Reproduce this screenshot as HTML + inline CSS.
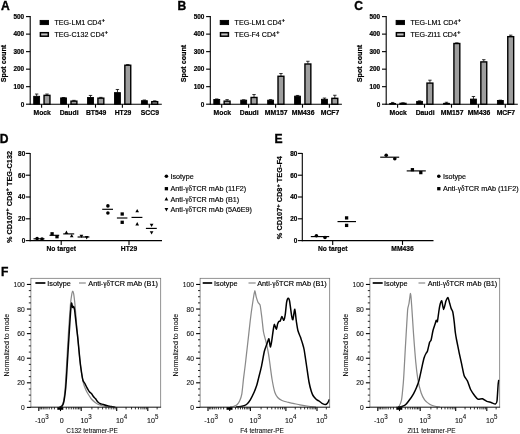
<!DOCTYPE html>
<html lang="en"><head><meta charset="utf-8"><title>Figure</title>
<style>html,body{margin:0;padding:0;background:#fff}body{width:520px;height:434px;overflow:hidden}svg{display:block}text{font-family:"Liberation Sans", Arial, Helvetica, sans-serif;fill:#000}.b{font-weight:bold}.pl{font-size:12.1px;font-weight:bold;fill:#000;stroke:#000;stroke-width:0.35px}.tk{font-size:6.4px;font-weight:bold;stroke:#000;stroke-width:0.2px}.cat{font-size:6.8px;font-weight:bold;stroke:#000;stroke-width:0.2px}.yl{font-size:7.2px;font-weight:bold;stroke:#000;stroke-width:0.2px}.lg{font-size:7.1px;stroke:#000;stroke-width:0.15px}.ft{font-size:7.2px;fill:#111;stroke:#111;stroke-width:0.1px}.fl{font-size:7.0px;fill:#111;stroke:#111;stroke-width:0.1px}.sup{font-size:6.2px;font-weight:bold}</style></head><body>
<svg width="520" height="434" viewBox="0 0 520 434">
<rect width="520" height="434" fill="#fff"/>
<text class="pl" x="0.9" y="9.9">A</text>
<path d="M30.2 16.05V104.8" stroke="#000" stroke-width="1.1" fill="none"/>
<path d="M29.6 104.2H161.8" stroke="#000" stroke-width="1.1" fill="none"/>
<path d="M26.0 104.20H30.2" stroke="#000" stroke-width="1.1"/>
<text class="tk" text-anchor="end" x="24.2" y="106.50">0</text>
<path d="M26.0 86.68H30.2" stroke="#000" stroke-width="1.1"/>
<text class="tk" text-anchor="end" x="24.2" y="88.98">100</text>
<path d="M26.0 69.16H30.2" stroke="#000" stroke-width="1.1"/>
<text class="tk" text-anchor="end" x="24.2" y="71.46">200</text>
<path d="M26.0 51.64H30.2" stroke="#000" stroke-width="1.1"/>
<text class="tk" text-anchor="end" x="24.2" y="53.94">300</text>
<path d="M26.0 34.12H30.2" stroke="#000" stroke-width="1.1"/>
<text class="tk" text-anchor="end" x="24.2" y="36.42">400</text>
<path d="M26.0 16.60H30.2" stroke="#000" stroke-width="1.1"/>
<text class="tk" text-anchor="end" x="24.2" y="18.90">500</text>
<text class="yl" text-anchor="middle" transform="translate(6.0 63.5) rotate(-90)">Spot count</text>
<rect x="40.1" y="20.4" width="8.4" height="4.2" fill="#000" stroke="#000" stroke-width="0.9"/>
<rect x="40.4" y="32.7" width="7.9" height="3.5" fill="#c4c4c4" stroke="#000" stroke-width="1.5"/>
<text class="lg" x="54.5" y="25.2">TEG-LM1 CD4<tspan class="sup" dy="-3.3">+</tspan></text>
<text class="lg" x="54.5" y="37.1">TEG-C132 CD4<tspan class="sup" dy="-3.3">+</tspan></text>
<path d="M41.6 104.2V107.7" stroke="#000" stroke-width="1.1"/>
<text class="cat" text-anchor="middle" x="42.2" y="114.6">Mock</text>
<path d="M36.65 96.32V94.04M34.95 94.04H38.35" stroke="#000" stroke-width="0.8" fill="none"/>
<rect x="33.70" y="96.32" width="5.90" height="7.88" fill="#000" stroke="#000" stroke-width="0.9"/>
<path d="M47.00 95.09V94.04M45.30 94.04H48.70" stroke="#000" stroke-width="0.8" fill="none"/>
<rect x="44.05" y="95.36" width="5.90" height="8.84" fill="#9e9e9e" stroke="#000" stroke-width="1.4"/>
<path d="M68.5 104.2V107.7" stroke="#000" stroke-width="1.1"/>
<text class="cat" text-anchor="middle" x="69.1" y="114.6">Daudi</text>
<path d="M63.58 97.89V97.54M61.88 97.54H65.28" stroke="#000" stroke-width="0.8" fill="none"/>
<rect x="60.63" y="97.89" width="5.90" height="6.31" fill="#000" stroke="#000" stroke-width="0.9"/>
<path d="M73.93 100.87V100.35M72.23 100.35H75.63" stroke="#000" stroke-width="0.8" fill="none"/>
<rect x="70.98" y="101.15" width="5.90" height="3.05" fill="#9e9e9e" stroke="#000" stroke-width="1.4"/>
<path d="M95.5 104.2V107.7" stroke="#000" stroke-width="1.1"/>
<text class="cat" text-anchor="middle" x="96.1" y="114.6">BT549</text>
<path d="M90.51 97.54V95.44M88.81 95.44H92.21" stroke="#000" stroke-width="0.8" fill="none"/>
<rect x="87.56" y="97.54" width="5.90" height="6.66" fill="#000" stroke="#000" stroke-width="0.9"/>
<path d="M100.86 97.89V97.37M99.16 97.37H102.56" stroke="#000" stroke-width="0.8" fill="none"/>
<rect x="97.91" y="98.17" width="5.90" height="6.03" fill="#9e9e9e" stroke="#000" stroke-width="1.4"/>
<path d="M122.4 104.2V107.7" stroke="#000" stroke-width="1.1"/>
<text class="cat" text-anchor="middle" x="123.0" y="114.6">HT29</text>
<path d="M117.44 92.64V89.48M115.74 89.48H119.14" stroke="#000" stroke-width="0.8" fill="none"/>
<rect x="114.49" y="92.64" width="5.90" height="11.56" fill="#000" stroke="#000" stroke-width="0.9"/>
<path d="M127.79 64.96V64.60M126.09 64.60H129.49" stroke="#000" stroke-width="0.8" fill="none"/>
<rect x="124.84" y="65.23" width="5.90" height="38.97" fill="#9e9e9e" stroke="#000" stroke-width="1.4"/>
<path d="M149.3 104.2V107.7" stroke="#000" stroke-width="1.1"/>
<text class="cat" text-anchor="middle" x="149.9" y="114.6">SCC9</text>
<path d="M144.37 100.70V100.00M142.67 100.00H146.07" stroke="#000" stroke-width="0.8" fill="none"/>
<rect x="141.42" y="100.70" width="5.90" height="3.50" fill="#000" stroke="#000" stroke-width="0.9"/>
<path d="M154.72 101.40V100.87M153.02 100.87H156.42" stroke="#000" stroke-width="0.8" fill="none"/>
<rect x="151.77" y="101.67" width="5.90" height="2.53" fill="#9e9e9e" stroke="#000" stroke-width="1.4"/>
<text class="pl" x="177.6" y="9.9">B</text>
<path d="M210.3 16.05V104.8" stroke="#000" stroke-width="1.1" fill="none"/>
<path d="M209.8 104.2H341.9" stroke="#000" stroke-width="1.1" fill="none"/>
<path d="M206.1 104.20H210.3" stroke="#000" stroke-width="1.1"/>
<text class="tk" text-anchor="end" x="204.3" y="106.50">0</text>
<path d="M206.1 86.68H210.3" stroke="#000" stroke-width="1.1"/>
<text class="tk" text-anchor="end" x="204.3" y="88.98">100</text>
<path d="M206.1 69.16H210.3" stroke="#000" stroke-width="1.1"/>
<text class="tk" text-anchor="end" x="204.3" y="71.46">200</text>
<path d="M206.1 51.64H210.3" stroke="#000" stroke-width="1.1"/>
<text class="tk" text-anchor="end" x="204.3" y="53.94">300</text>
<path d="M206.1 34.12H210.3" stroke="#000" stroke-width="1.1"/>
<text class="tk" text-anchor="end" x="204.3" y="36.42">400</text>
<path d="M206.1 16.60H210.3" stroke="#000" stroke-width="1.1"/>
<text class="tk" text-anchor="end" x="204.3" y="18.90">500</text>
<text class="yl" text-anchor="middle" transform="translate(186.1 63.5) rotate(-90)">Spot count</text>
<rect x="220.2" y="20.4" width="8.4" height="4.2" fill="#000" stroke="#000" stroke-width="0.9"/>
<rect x="220.5" y="32.7" width="7.9" height="3.5" fill="#c4c4c4" stroke="#000" stroke-width="1.5"/>
<text class="lg" x="234.6" y="25.2">TEG-LM1 CD4<tspan class="sup" dy="-3.3">+</tspan></text>
<text class="lg" x="234.6" y="37.1">TEG-F4 CD4<tspan class="sup" dy="-3.3">+</tspan></text>
<path d="M221.7 104.2V107.7" stroke="#000" stroke-width="1.1"/>
<text class="cat" text-anchor="middle" x="222.3" y="114.6">Mock</text>
<path d="M216.75 99.47V98.94M215.05 98.94H218.45" stroke="#000" stroke-width="0.8" fill="none"/>
<rect x="213.80" y="99.47" width="5.90" height="4.73" fill="#000" stroke="#000" stroke-width="0.9"/>
<path d="M227.10 100.87V99.64M225.40 99.64H228.80" stroke="#000" stroke-width="0.8" fill="none"/>
<rect x="224.15" y="101.15" width="5.90" height="3.05" fill="#9e9e9e" stroke="#000" stroke-width="1.4"/>
<path d="M248.6 104.2V107.7" stroke="#000" stroke-width="1.1"/>
<text class="cat" text-anchor="middle" x="249.2" y="114.6">Daudi</text>
<path d="M243.68 100.17V99.82M241.98 99.82H245.38" stroke="#000" stroke-width="0.8" fill="none"/>
<rect x="240.73" y="100.17" width="5.90" height="4.03" fill="#000" stroke="#000" stroke-width="0.9"/>
<path d="M254.03 97.19V94.56M252.33 94.56H255.73" stroke="#000" stroke-width="0.8" fill="none"/>
<rect x="251.08" y="97.47" width="5.90" height="6.73" fill="#9e9e9e" stroke="#000" stroke-width="1.4"/>
<path d="M275.6 104.2V107.7" stroke="#000" stroke-width="1.1"/>
<text class="cat" text-anchor="middle" x="276.2" y="114.6">MM157</text>
<path d="M270.61 100.17V99.64M268.91 99.64H272.31" stroke="#000" stroke-width="0.8" fill="none"/>
<rect x="267.66" y="100.17" width="5.90" height="4.03" fill="#000" stroke="#000" stroke-width="0.9"/>
<path d="M280.96 75.99V73.54M279.26 73.54H282.66" stroke="#000" stroke-width="0.8" fill="none"/>
<rect x="278.01" y="76.27" width="5.90" height="27.93" fill="#9e9e9e" stroke="#000" stroke-width="1.4"/>
<path d="M302.5 104.2V107.7" stroke="#000" stroke-width="1.1"/>
<text class="cat" text-anchor="middle" x="303.1" y="114.6">MM436</text>
<path d="M297.54 96.14V95.44M295.84 95.44H299.24" stroke="#000" stroke-width="0.8" fill="none"/>
<rect x="294.59" y="96.14" width="5.90" height="8.06" fill="#000" stroke="#000" stroke-width="0.9"/>
<path d="M307.89 63.73V61.28M306.19 61.28H309.59" stroke="#000" stroke-width="0.8" fill="none"/>
<rect x="304.94" y="64.00" width="5.90" height="40.20" fill="#9e9e9e" stroke="#000" stroke-width="1.4"/>
<path d="M329.4 104.2V107.7" stroke="#000" stroke-width="1.1"/>
<text class="cat" text-anchor="middle" x="330.0" y="114.6">MCF7</text>
<path d="M324.47 99.29V98.07M322.77 98.07H326.17" stroke="#000" stroke-width="0.8" fill="none"/>
<rect x="321.52" y="99.29" width="5.90" height="4.91" fill="#000" stroke="#000" stroke-width="0.9"/>
<path d="M334.82 98.07V95.26M333.12 95.26H336.52" stroke="#000" stroke-width="0.8" fill="none"/>
<rect x="331.87" y="98.34" width="5.90" height="5.86" fill="#9e9e9e" stroke="#000" stroke-width="1.4"/>
<text class="pl" x="354.2" y="9.9">C</text>
<path d="M386.2 16.05V104.8" stroke="#000" stroke-width="1.1" fill="none"/>
<path d="M385.6 104.2H517.8" stroke="#000" stroke-width="1.1" fill="none"/>
<path d="M382.0 104.20H386.2" stroke="#000" stroke-width="1.1"/>
<text class="tk" text-anchor="end" x="380.2" y="106.50">0</text>
<path d="M382.0 86.68H386.2" stroke="#000" stroke-width="1.1"/>
<text class="tk" text-anchor="end" x="380.2" y="88.98">100</text>
<path d="M382.0 69.16H386.2" stroke="#000" stroke-width="1.1"/>
<text class="tk" text-anchor="end" x="380.2" y="71.46">200</text>
<path d="M382.0 51.64H386.2" stroke="#000" stroke-width="1.1"/>
<text class="tk" text-anchor="end" x="380.2" y="53.94">300</text>
<path d="M382.0 34.12H386.2" stroke="#000" stroke-width="1.1"/>
<text class="tk" text-anchor="end" x="380.2" y="36.42">400</text>
<path d="M382.0 16.60H386.2" stroke="#000" stroke-width="1.1"/>
<text class="tk" text-anchor="end" x="380.2" y="18.90">500</text>
<text class="yl" text-anchor="middle" transform="translate(362.0 63.5) rotate(-90)">Spot count</text>
<rect x="396.1" y="20.4" width="8.4" height="4.2" fill="#000" stroke="#000" stroke-width="0.9"/>
<rect x="396.4" y="32.7" width="7.9" height="3.5" fill="#c4c4c4" stroke="#000" stroke-width="1.5"/>
<text class="lg" x="410.5" y="25.2">TEG-LM1 CD4<tspan class="sup" dy="-3.3">+</tspan></text>
<text class="lg" x="410.5" y="37.1">TEG-Zi11 CD4<tspan class="sup" dy="-3.3">+</tspan></text>
<path d="M397.6 104.2V107.7" stroke="#000" stroke-width="1.1"/>
<text class="cat" text-anchor="middle" x="398.2" y="114.6">Mock</text>
<path d="M392.65 103.50V102.45M390.95 102.45H394.35" stroke="#000" stroke-width="0.8" fill="none"/>
<rect x="389.70" y="103.50" width="5.90" height="0.70" fill="#000" stroke="#000" stroke-width="0.9"/>
<path d="M403.00 103.15V102.80M401.30 102.80H404.70" stroke="#000" stroke-width="0.8" fill="none"/>
<rect x="400.05" y="103.42" width="5.90" height="0.78" fill="#9e9e9e" stroke="#000" stroke-width="1.4"/>
<path d="M424.5 104.2V107.7" stroke="#000" stroke-width="1.1"/>
<text class="cat" text-anchor="middle" x="425.1" y="114.6">Daudi</text>
<path d="M419.58 101.40V100.87M417.88 100.87H421.28" stroke="#000" stroke-width="0.8" fill="none"/>
<rect x="416.63" y="101.40" width="5.90" height="2.80" fill="#000" stroke="#000" stroke-width="0.9"/>
<path d="M429.93 82.83V80.20M428.23 80.20H431.63" stroke="#000" stroke-width="0.8" fill="none"/>
<rect x="426.98" y="83.10" width="5.90" height="21.10" fill="#9e9e9e" stroke="#000" stroke-width="1.4"/>
<path d="M451.5 104.2V107.7" stroke="#000" stroke-width="1.1"/>
<text class="cat" text-anchor="middle" x="452.1" y="114.6">MM157</text>
<path d="M446.51 103.32V102.27M444.81 102.27H448.21" stroke="#000" stroke-width="0.8" fill="none"/>
<rect x="443.56" y="103.32" width="5.90" height="0.88" fill="#000" stroke="#000" stroke-width="0.9"/>
<path d="M456.86 43.23V42.88M455.16 42.88H458.56" stroke="#000" stroke-width="0.8" fill="none"/>
<rect x="453.91" y="43.51" width="5.90" height="60.69" fill="#9e9e9e" stroke="#000" stroke-width="1.4"/>
<path d="M478.4 104.2V107.7" stroke="#000" stroke-width="1.1"/>
<text class="cat" text-anchor="middle" x="479.0" y="114.6">MM436</text>
<path d="M473.44 99.12V96.49M471.74 96.49H475.14" stroke="#000" stroke-width="0.8" fill="none"/>
<rect x="470.49" y="99.12" width="5.90" height="5.08" fill="#000" stroke="#000" stroke-width="0.9"/>
<path d="M483.79 61.63V59.70M482.09 59.70H485.49" stroke="#000" stroke-width="0.8" fill="none"/>
<rect x="480.84" y="61.90" width="5.90" height="42.30" fill="#9e9e9e" stroke="#000" stroke-width="1.4"/>
<path d="M505.3 104.2V107.7" stroke="#000" stroke-width="1.1"/>
<text class="cat" text-anchor="middle" x="505.9" y="114.6">MCF7</text>
<path d="M500.37 100.52V100.17M498.67 100.17H502.07" stroke="#000" stroke-width="0.8" fill="none"/>
<rect x="497.42" y="100.52" width="5.90" height="3.68" fill="#000" stroke="#000" stroke-width="0.9"/>
<path d="M510.72 36.40V35.17M509.02 35.17H512.42" stroke="#000" stroke-width="0.8" fill="none"/>
<rect x="507.77" y="36.67" width="5.90" height="67.53" fill="#9e9e9e" stroke="#000" stroke-width="1.4"/>
<text class="pl" x="-0.3" y="142.5">D</text>
<path d="M30.2 153.0V241.2" stroke="#000" stroke-width="1.1" fill="none"/>
<path d="M29.6 240.6H162.0" stroke="#000" stroke-width="1.1" fill="none"/>
<path d="M25.8 240.60H30.2" stroke="#000" stroke-width="1.1"/>
<text class="tk" text-anchor="end" x="25.2" y="242.90">0</text>
<path d="M25.8 218.80H30.2" stroke="#000" stroke-width="1.1"/>
<text class="tk" text-anchor="end" x="25.2" y="221.10">20</text>
<path d="M25.8 197.00H30.2" stroke="#000" stroke-width="1.1"/>
<text class="tk" text-anchor="end" x="25.2" y="199.30">40</text>
<path d="M25.8 175.20H30.2" stroke="#000" stroke-width="1.1"/>
<text class="tk" text-anchor="end" x="25.2" y="177.50">60</text>
<path d="M25.8 153.40H30.2" stroke="#000" stroke-width="1.1"/>
<text class="tk" text-anchor="end" x="25.2" y="155.70">80</text>
<text class="yl" style="font-size:7.35px" text-anchor="middle" transform="translate(11.7 197.0) rotate(-90)">% CD107<tspan class="sup" style="font-size:5.8px" dy="-2.3">+</tspan><tspan dy="2.3"> </tspan>CD8<tspan class="sup" style="font-size:5.8px" dy="-2.3">+</tspan><tspan dy="2.3"> </tspan>TEG-C132</text>
<path d="M61.2 240.6V244.9" stroke="#000" stroke-width="1.1"/>
<text class="cat" style="font-size:6.7px" text-anchor="middle" x="61.2" y="251.3">No target</text>
<path d="M129.0 240.6V244.9" stroke="#000" stroke-width="1.1"/>
<text class="cat" style="font-size:6.7px" text-anchor="middle" x="129.0" y="251.3">HT29</text>
<path d="M33.5 238.8H44.5" stroke="#000" stroke-width="1.15"/>
<circle cx="37.1" cy="238.6" r="1.80" fill="#000"/>
<circle cx="42.0" cy="239.0" r="1.80" fill="#000"/>
<path d="M49.5 235.3H59.2" stroke="#000" stroke-width="1.15"/>
<rect x="50.45" y="232.15" width="3.30" height="3.30" fill="#000"/>
<rect x="55.35" y="235.05" width="3.30" height="3.30" fill="#000"/>
<path d="M63.2 233.9H74.2" stroke="#000" stroke-width="1.15"/>
<path d="M66.40 230.50L68.25 233.90L64.55 233.90Z" fill="#000"/>
<path d="M71.70 233.90L73.55 237.30L69.85 237.30Z" fill="#000"/>
<path d="M77.6 237.0H89.4" stroke="#000" stroke-width="1.15"/>
<path d="M81.40 238.10L83.25 234.70L79.55 234.70Z" fill="#000"/>
<path d="M86.70 239.50L88.55 236.10L84.85 236.10Z" fill="#000"/>
<path d="M102.2 209.3H113.0" stroke="#000" stroke-width="1.15"/>
<circle cx="107.9" cy="205.9" r="1.80" fill="#000"/>
<circle cx="107.9" cy="213.0" r="1.80" fill="#000"/>
<path d="M116.9 218.0H127.4" stroke="#000" stroke-width="1.15"/>
<rect x="120.55" y="212.35" width="3.30" height="3.30" fill="#000"/>
<rect x="120.55" y="220.65" width="3.30" height="3.30" fill="#000"/>
<path d="M131.5 217.4H142.4" stroke="#000" stroke-width="1.15"/>
<path d="M137.20 208.90L139.05 212.30L135.35 212.30Z" fill="#000"/>
<path d="M137.20 222.10L139.05 225.50L135.35 225.50Z" fill="#000"/>
<path d="M145.9 228.4H156.8" stroke="#000" stroke-width="1.15"/>
<path d="M151.60 227.10L153.45 223.70L149.75 223.70Z" fill="#000"/>
<path d="M151.60 234.60L153.45 231.20L149.75 231.20Z" fill="#000"/>
<circle cx="166.4" cy="176.3" r="1.80" fill="#000"/>
<text class="lg" style="font-size:7.2px" x="170.5" y="178.9">Isotype</text>
<rect x="164.75" y="187.05" width="3.30" height="3.30" fill="#000"/>
<text class="lg" style="font-size:7.2px" x="170.5" y="191.3">Anti-<tspan style="font-family:'Liberation Serif','DejaVu Serif',serif;font-size:7.4px">γδ</tspan>TCR mAb (11F2)</text>
<path d="M166.40 197.10L168.25 200.50L164.55 200.50Z" fill="#000"/>
<text class="lg" style="font-size:7.2px" x="170.5" y="201.6">Anti-<tspan style="font-family:'Liberation Serif','DejaVu Serif',serif;font-size:7.4px">γδ</tspan>TCR mAb (B1)</text>
<path d="M166.40 211.50L168.25 208.10L164.55 208.10Z" fill="#000"/>
<text class="lg" style="font-size:7.2px" x="170.5" y="212.2">Anti-<tspan style="font-family:'Liberation Serif','DejaVu Serif',serif;font-size:7.4px">γδ</tspan>TCR mAb (5A6E9)</text>
<text class="pl" x="274.6" y="142.5">E</text>
<path d="M302.3 153.0V241.2" stroke="#000" stroke-width="1.1" fill="none"/>
<path d="M301.8 240.6H433.5" stroke="#000" stroke-width="1.1" fill="none"/>
<path d="M297.9 240.60H302.3" stroke="#000" stroke-width="1.1"/>
<text class="tk" text-anchor="end" x="297.3" y="242.90">0</text>
<path d="M297.9 218.80H302.3" stroke="#000" stroke-width="1.1"/>
<text class="tk" text-anchor="end" x="297.3" y="221.10">20</text>
<path d="M297.9 197.00H302.3" stroke="#000" stroke-width="1.1"/>
<text class="tk" text-anchor="end" x="297.3" y="199.30">40</text>
<path d="M297.9 175.20H302.3" stroke="#000" stroke-width="1.1"/>
<text class="tk" text-anchor="end" x="297.3" y="177.50">60</text>
<path d="M297.9 153.40H302.3" stroke="#000" stroke-width="1.1"/>
<text class="tk" text-anchor="end" x="297.3" y="155.70">80</text>
<text class="yl" style="font-size:7.35px" text-anchor="middle" transform="translate(282.1 197.6) rotate(-90)">% CD107<tspan class="sup" style="font-size:5.8px" dy="-2.3">+</tspan><tspan dy="2.3"> </tspan>CD8<tspan class="sup" style="font-size:5.8px" dy="-2.3">+</tspan><tspan dy="2.3"> </tspan>TEG-F4</text>
<path d="M332.7 240.6V244.9" stroke="#000" stroke-width="1.1"/>
<text class="cat" style="font-size:6.7px" text-anchor="middle" x="332.7" y="251.3">No target</text>
<path d="M402.5 240.6V244.9" stroke="#000" stroke-width="1.1"/>
<text class="cat" style="font-size:6.7px" text-anchor="middle" x="402.5" y="251.3">MM436</text>
<path d="M310.8 236.6H329.2" stroke="#000" stroke-width="1.15"/>
<circle cx="316.4" cy="235.8" r="1.80" fill="#000"/>
<circle cx="325.0" cy="237.5" r="1.80" fill="#000"/>
<path d="M337.5 221.6H356.0" stroke="#000" stroke-width="1.15"/>
<rect x="344.95" y="216.25" width="3.30" height="3.30" fill="#000"/>
<rect x="344.95" y="223.75" width="3.30" height="3.30" fill="#000"/>
<path d="M380.2 157.2H399.2" stroke="#000" stroke-width="1.15"/>
<circle cx="386.2" cy="155.3" r="1.80" fill="#000"/>
<circle cx="394.8" cy="158.7" r="1.80" fill="#000"/>
<path d="M406.7 170.9H425.8" stroke="#000" stroke-width="1.15"/>
<rect x="410.75" y="168.05" width="3.30" height="3.30" fill="#000"/>
<rect x="419.15" y="170.95" width="3.30" height="3.30" fill="#000"/>
<circle cx="438.8" cy="176.3" r="1.80" fill="#000"/>
<text class="lg" style="font-size:7.2px" x="442.9" y="178.9">Isotype</text>
<rect x="437.15" y="187.05" width="3.30" height="3.30" fill="#000"/>
<text class="lg" style="font-size:7.2px" x="442.9" y="191.3">Anti-<tspan style="font-family:'Liberation Serif','DejaVu Serif',serif;font-size:7.4px">γδ</tspan>TCR mAb (11F2)</text>
<text class="pl" x="0.9" y="275.8">F</text>
<path d="M58.9 407.0C59.2 406.9 60.9 406.8 61.4 406.2C61.9 405.6 63.0 403.9 63.4 402.0C63.8 400.1 64.6 394.4 65.0 390.0C65.4 385.6 66.2 372.0 66.6 365.0C67.0 358.0 68.0 339.2 68.5 332.0C69.0 324.8 70.0 309.6 70.4 305.0C70.8 300.4 71.6 295.2 71.9 293.5C72.2 291.8 72.6 291.0 72.8 291.0C73.0 291.0 73.3 291.9 73.6 293.5C73.9 295.1 74.5 299.9 74.9 304.0C75.3 308.1 76.4 321.9 76.9 328.0C77.4 334.1 78.9 349.7 79.4 355.0C79.9 360.3 80.9 368.6 81.4 372.0C81.9 375.4 82.9 380.8 83.4 383.0C83.9 385.2 85.3 388.6 85.9 390.0C86.5 391.4 87.7 393.4 88.4 394.5C89.1 395.6 90.6 398.1 91.4 399.0C92.2 399.9 94.1 401.6 94.9 402.3C95.7 403.0 97.4 404.1 98.4 404.5C99.4 404.9 102.0 405.7 103.4 406.0C104.8 406.3 109.6 406.9 110.4 407.0" fill="none" stroke="#8a8a8a" stroke-width="1.25" stroke-linejoin="round"/>
<path d="M59.9 407.0C60.2 406.9 61.7 406.7 62.2 406.0C62.7 405.3 63.6 403.2 64.0 401.0C64.4 398.8 65.3 392.7 65.7 388.0C66.1 383.3 67.0 369.0 67.4 362.0C67.8 355.0 69.0 336.5 69.4 330.0C69.8 323.5 70.6 311.2 70.9 308.0C71.2 304.8 71.4 303.1 71.6 303.0C71.8 302.9 72.4 307.1 72.6 307.5C72.8 307.9 73.4 306.2 73.6 306.5C73.8 306.8 74.3 307.7 74.6 310.0C74.9 312.3 76.0 322.4 76.4 326.0C76.8 329.6 77.6 336.0 78.0 340.0C78.4 344.0 79.4 355.0 79.8 359.0C80.2 363.0 81.2 370.4 81.6 373.0C82.0 375.6 82.6 379.2 83.0 380.5C83.4 381.8 84.4 382.5 84.9 383.5C85.4 384.5 86.8 387.5 87.4 388.5C88.0 389.5 89.1 391.4 89.6 392.0C90.1 392.6 90.9 393.0 91.4 393.5C91.9 394.0 92.9 395.9 93.4 396.5C93.9 397.1 95.1 398.1 95.6 398.8C96.1 399.5 97.3 401.4 97.9 402.0C98.5 402.6 99.7 403.4 100.4 403.7C101.1 404.0 102.6 404.2 103.4 404.5C104.2 404.8 106.4 405.6 107.4 405.8C108.4 406.0 110.4 406.3 111.4 406.5C112.4 406.7 114.9 407.1 115.4 407.2" fill="none" stroke="#000" stroke-width="1.5" stroke-linejoin="round"/>
<rect x="30.9" y="278.3" width="129.8" height="128.9" fill="none" stroke="#6e6e6e" stroke-width="0.75"/>
<path d="M30.5 407.2H161.1" stroke="#222" stroke-width="0.85"/>
<path d="M26.9 407.40H30.9" stroke="#000" stroke-width="1.1"/>
<text class="ft" text-anchor="end" transform="translate(24.7 410.00) scale(0.93 1)">0</text>
<path d="M28.8 401.25H30.9" stroke="#000" stroke-width="0.85"/>
<path d="M28.8 395.10H30.9" stroke="#000" stroke-width="0.85"/>
<path d="M28.8 388.96H30.9" stroke="#000" stroke-width="0.85"/>
<path d="M26.9 382.81H30.9" stroke="#000" stroke-width="1.1"/>
<text class="ft" text-anchor="end" transform="translate(24.7 385.41) scale(0.93 1)">20</text>
<path d="M28.8 376.66H30.9" stroke="#000" stroke-width="0.85"/>
<path d="M28.8 370.51H30.9" stroke="#000" stroke-width="0.85"/>
<path d="M28.8 364.37H30.9" stroke="#000" stroke-width="0.85"/>
<path d="M26.9 358.22H30.9" stroke="#000" stroke-width="1.1"/>
<text class="ft" text-anchor="end" transform="translate(24.7 360.82) scale(0.93 1)">40</text>
<path d="M28.8 352.07H30.9" stroke="#000" stroke-width="0.85"/>
<path d="M28.8 345.92H30.9" stroke="#000" stroke-width="0.85"/>
<path d="M28.8 339.78H30.9" stroke="#000" stroke-width="0.85"/>
<path d="M26.9 333.63H30.9" stroke="#000" stroke-width="1.1"/>
<text class="ft" text-anchor="end" transform="translate(24.7 336.23) scale(0.93 1)">60</text>
<path d="M28.8 327.48H30.9" stroke="#000" stroke-width="0.85"/>
<path d="M28.8 321.33H30.9" stroke="#000" stroke-width="0.85"/>
<path d="M28.8 315.19H30.9" stroke="#000" stroke-width="0.85"/>
<path d="M26.9 309.04H30.9" stroke="#000" stroke-width="1.1"/>
<text class="ft" text-anchor="end" transform="translate(24.7 311.64) scale(0.93 1)">80</text>
<path d="M28.8 302.89H30.9" stroke="#000" stroke-width="0.85"/>
<path d="M28.8 296.75H30.9" stroke="#000" stroke-width="0.85"/>
<path d="M28.8 290.60H30.9" stroke="#000" stroke-width="0.85"/>
<path d="M26.9 284.45H30.9" stroke="#000" stroke-width="1.1"/>
<text class="ft" text-anchor="end" transform="translate(24.7 287.05) scale(0.93 1)">100</text>
<text class="fl" text-anchor="middle" transform="translate(8.7 345.2) rotate(-90)">Normalized to mode</text>
<path d="M38.8 407.2V411.1" stroke="#000" stroke-width="1.1"/>
<path d="M60.5 407.2V411.1" stroke="#000" stroke-width="1.1"/>
<path d="M81.2 407.2V411.1" stroke="#000" stroke-width="1.1"/>
<path d="M116.7 407.2V411.1" stroke="#000" stroke-width="1.1"/>
<path d="M147.8 407.2V411.1" stroke="#000" stroke-width="1.1"/>
<path d="M54.42 407.2V409.4" stroke="#000" stroke-width="0.8"/>
<path d="M51.68 407.2V409.4" stroke="#000" stroke-width="0.8"/>
<path d="M49.21 407.2V409.4" stroke="#000" stroke-width="0.8"/>
<path d="M46.99 407.2V409.4" stroke="#000" stroke-width="0.8"/>
<path d="M45.01 407.2V409.4" stroke="#000" stroke-width="0.8"/>
<path d="M43.22 407.2V409.4" stroke="#000" stroke-width="0.8"/>
<path d="M41.61 407.2V409.4" stroke="#000" stroke-width="0.8"/>
<path d="M40.14 407.2V409.4" stroke="#000" stroke-width="0.8"/>
<path d="M66.30 407.2V409.4" stroke="#000" stroke-width="0.8"/>
<path d="M68.91 407.2V409.4" stroke="#000" stroke-width="0.8"/>
<path d="M71.27 407.2V409.4" stroke="#000" stroke-width="0.8"/>
<path d="M73.38 407.2V409.4" stroke="#000" stroke-width="0.8"/>
<path d="M75.28 407.2V409.4" stroke="#000" stroke-width="0.8"/>
<path d="M76.98 407.2V409.4" stroke="#000" stroke-width="0.8"/>
<path d="M78.52 407.2V409.4" stroke="#000" stroke-width="0.8"/>
<path d="M79.92 407.2V409.4" stroke="#000" stroke-width="0.8"/>
<path d="M91.89 407.2V409.4" stroke="#000" stroke-width="0.8"/>
<path d="M98.14 407.2V409.4" stroke="#000" stroke-width="0.8"/>
<path d="M102.57 407.2V409.4" stroke="#000" stroke-width="0.8"/>
<path d="M106.01 407.2V409.4" stroke="#000" stroke-width="0.8"/>
<path d="M108.82 407.2V409.4" stroke="#000" stroke-width="0.8"/>
<path d="M111.20 407.2V409.4" stroke="#000" stroke-width="0.8"/>
<path d="M113.26 407.2V409.4" stroke="#000" stroke-width="0.8"/>
<path d="M115.08 407.2V409.4" stroke="#000" stroke-width="0.8"/>
<path d="M126.06 407.2V409.4" stroke="#000" stroke-width="0.8"/>
<path d="M131.54 407.2V409.4" stroke="#000" stroke-width="0.8"/>
<path d="M135.42 407.2V409.4" stroke="#000" stroke-width="0.8"/>
<path d="M138.44 407.2V409.4" stroke="#000" stroke-width="0.8"/>
<path d="M140.90 407.2V409.4" stroke="#000" stroke-width="0.8"/>
<path d="M142.98 407.2V409.4" stroke="#000" stroke-width="0.8"/>
<path d="M144.79 407.2V409.4" stroke="#000" stroke-width="0.8"/>
<path d="M146.38 407.2V409.4" stroke="#000" stroke-width="0.8"/>
<path d="M157.13 407.2V409.4" stroke="#000" stroke-width="0.8"/>
<rect x="57.3" y="407.2" width="6.0" height="2.6" fill="#000"/>
<text class="ft" style="font-size:7.5px" transform="translate(35.0 423.1) scale(0.95 1)">-10<tspan style="font-size:6.5px" dy="-4.4">3</tspan></text>
<text class="ft" style="font-size:7.5px" text-anchor="middle" transform="translate(61.8 423.1) scale(0.95 1)">0</text>
<text class="ft" style="font-size:7.5px" transform="translate(80.4 423.1) scale(0.95 1)">10<tspan style="font-size:6.5px" dy="-4.4">3</tspan></text>
<text class="ft" style="font-size:7.5px" transform="translate(115.9 423.1) scale(0.95 1)">10<tspan style="font-size:6.5px" dy="-4.4">4</tspan></text>
<text class="ft" style="font-size:7.5px" transform="translate(147.0 423.1) scale(0.95 1)">10<tspan style="font-size:6.5px" dy="-4.4">5</tspan></text>
<text class="fl" text-anchor="middle" transform="translate(92.0 432.9) scale(0.915 1)">C132 tetramer-PE</text>
<path d="M35.4 283.0H45.4" stroke="#000" stroke-width="1.7"/>
<text class="lg" style="font-size:7.3px" x="47.3" y="285.5">Isotype</text>
<path d="M79.0 283.0H85.8" stroke="#8a8a8a" stroke-width="1.2"/>
<text class="lg" style="font-size:7.3px" x="88.3" y="285.5">Anti-<tspan style="font-family:'Liberation Serif','DejaVu Serif',serif;font-size:7.4px">γδ</tspan>TCR mAb (B1)</text>
<path d="M230.0 407.0C230.4 406.9 232.7 406.8 233.5 406.5C234.3 406.2 236.3 405.5 237.0 404.8C237.7 404.1 239.0 402.3 239.6 401.0C240.2 399.7 241.3 397.1 241.8 394.2C242.3 391.3 243.2 381.1 243.7 377.2C244.2 373.3 245.2 365.6 245.6 362.0C246.0 358.4 246.7 351.9 247.3 347.0C247.9 342.1 249.6 326.2 250.2 321.0C250.8 315.8 252.0 307.2 252.5 304.0C253.0 300.8 253.7 296.1 254.0 294.5C254.3 292.9 254.7 290.6 254.9 290.6C255.1 290.6 255.5 293.7 255.7 294.5C255.9 295.3 256.1 296.7 256.4 297.6C256.7 298.5 257.6 301.5 258.0 302.3C258.4 303.1 259.1 303.6 259.4 304.0C259.7 304.4 260.0 304.3 260.3 306.0C260.6 307.7 261.5 314.9 261.9 318.0C262.3 321.1 263.0 329.2 263.5 332.0C264.0 334.8 265.3 339.0 265.8 341.0C266.3 343.0 267.2 346.9 267.6 349.0C268.0 351.1 268.7 354.7 269.2 358.3C269.7 361.9 271.3 374.9 272.0 379.0C272.7 383.1 274.1 390.1 274.8 392.3C275.5 394.5 276.8 396.5 277.7 397.5C278.6 398.5 280.9 400.0 282.0 400.5C283.1 401.0 285.7 401.7 287.0 402.0C288.3 402.3 291.4 403.1 293.0 403.4C294.6 403.7 298.3 404.5 300.0 404.8C301.7 405.1 305.1 405.7 307.0 406.0C308.9 406.3 314.9 406.9 316.0 407.0" fill="none" stroke="#8a8a8a" stroke-width="1.25" stroke-linejoin="round"/>
<path d="M236.0 407.0C236.6 407.0 239.6 406.9 240.9 406.6C242.2 406.3 245.4 405.3 246.5 404.5C247.6 403.7 249.4 401.3 250.3 399.8C251.2 398.3 253.3 394.1 254.1 392.3C254.9 390.5 256.3 386.5 256.9 384.7C257.5 382.9 258.2 379.5 258.8 377.2C259.4 374.9 260.9 368.9 261.6 365.8C262.3 362.7 263.7 353.9 264.3 351.5C264.9 349.1 265.8 346.8 266.3 345.5C266.8 344.2 267.8 341.3 268.1 340.5C268.4 339.7 268.7 338.3 269.0 339.1C269.3 339.9 270.1 347.1 270.5 347.0C270.9 346.9 271.8 340.5 272.1 338.3C272.4 336.1 273.1 330.7 273.4 329.0C273.7 327.3 274.1 324.3 274.4 324.3C274.7 324.3 275.9 329.3 276.3 329.3C276.7 329.3 277.3 324.9 277.6 324.0C277.9 323.1 278.5 321.9 278.8 321.5C279.1 321.1 279.8 321.6 280.2 321.0C280.6 320.4 281.5 316.5 281.9 316.4C282.3 316.3 283.4 320.7 283.8 320.3C284.2 319.9 285.1 315.5 285.4 313.3C285.7 311.1 286.3 304.0 286.6 302.3C286.9 300.6 287.3 299.5 287.5 299.0C287.7 298.5 288.0 298.2 288.2 298.2C288.4 298.2 288.8 298.5 289.0 299.0C289.2 299.5 289.5 300.3 289.8 302.3C290.1 304.3 291.2 313.5 291.6 315.6C292.0 317.7 292.5 320.4 292.9 319.6C293.3 318.8 294.4 309.0 294.8 309.2C295.2 309.4 295.9 318.4 296.3 321.0C296.7 323.6 297.4 328.6 297.9 330.5C298.4 332.4 299.7 335.2 300.3 336.8C300.9 338.4 302.1 342.2 302.6 343.8C303.1 345.4 303.8 347.6 304.2 350.0C304.6 352.4 305.7 360.2 306.3 364.0C306.9 367.8 308.4 378.8 309.0 382.0C309.6 385.2 310.7 389.4 311.2 391.0C311.7 392.6 312.4 394.5 313.0 395.5C313.6 396.5 315.7 398.8 316.4 399.5C317.1 400.2 318.3 400.5 319.0 401.0C319.7 401.5 321.2 402.9 322.0 403.3C322.8 403.7 324.7 404.6 325.4 404.6C326.1 404.6 327.1 403.6 327.6 403.0C328.1 402.4 329.2 399.7 329.4 399.3" fill="none" stroke="#000" stroke-width="1.5" stroke-linejoin="round"/>
<rect x="200.1" y="278.3" width="129.6" height="128.9" fill="none" stroke="#6e6e6e" stroke-width="0.75"/>
<path d="M199.7 407.2H330.1" stroke="#222" stroke-width="0.85"/>
<path d="M196.1 407.40H200.1" stroke="#000" stroke-width="1.1"/>
<text class="ft" text-anchor="end" transform="translate(193.9 410.00) scale(0.93 1)">0</text>
<path d="M198.0 401.25H200.1" stroke="#000" stroke-width="0.85"/>
<path d="M198.0 395.10H200.1" stroke="#000" stroke-width="0.85"/>
<path d="M198.0 388.96H200.1" stroke="#000" stroke-width="0.85"/>
<path d="M196.1 382.81H200.1" stroke="#000" stroke-width="1.1"/>
<text class="ft" text-anchor="end" transform="translate(193.9 385.41) scale(0.93 1)">20</text>
<path d="M198.0 376.66H200.1" stroke="#000" stroke-width="0.85"/>
<path d="M198.0 370.51H200.1" stroke="#000" stroke-width="0.85"/>
<path d="M198.0 364.37H200.1" stroke="#000" stroke-width="0.85"/>
<path d="M196.1 358.22H200.1" stroke="#000" stroke-width="1.1"/>
<text class="ft" text-anchor="end" transform="translate(193.9 360.82) scale(0.93 1)">40</text>
<path d="M198.0 352.07H200.1" stroke="#000" stroke-width="0.85"/>
<path d="M198.0 345.92H200.1" stroke="#000" stroke-width="0.85"/>
<path d="M198.0 339.78H200.1" stroke="#000" stroke-width="0.85"/>
<path d="M196.1 333.63H200.1" stroke="#000" stroke-width="1.1"/>
<text class="ft" text-anchor="end" transform="translate(193.9 336.23) scale(0.93 1)">60</text>
<path d="M198.0 327.48H200.1" stroke="#000" stroke-width="0.85"/>
<path d="M198.0 321.33H200.1" stroke="#000" stroke-width="0.85"/>
<path d="M198.0 315.19H200.1" stroke="#000" stroke-width="0.85"/>
<path d="M196.1 309.04H200.1" stroke="#000" stroke-width="1.1"/>
<text class="ft" text-anchor="end" transform="translate(193.9 311.64) scale(0.93 1)">80</text>
<path d="M198.0 302.89H200.1" stroke="#000" stroke-width="0.85"/>
<path d="M198.0 296.75H200.1" stroke="#000" stroke-width="0.85"/>
<path d="M198.0 290.60H200.1" stroke="#000" stroke-width="0.85"/>
<path d="M196.1 284.45H200.1" stroke="#000" stroke-width="1.1"/>
<text class="ft" text-anchor="end" transform="translate(193.9 287.05) scale(0.93 1)">100</text>
<text class="fl" text-anchor="middle" transform="translate(177.9 345.2) rotate(-90)">Normalized to mode</text>
<path d="M208.0 407.2V411.1" stroke="#000" stroke-width="1.1"/>
<path d="M229.7 407.2V411.1" stroke="#000" stroke-width="1.1"/>
<path d="M250.4 407.2V411.1" stroke="#000" stroke-width="1.1"/>
<path d="M285.9 407.2V411.1" stroke="#000" stroke-width="1.1"/>
<path d="M317.0 407.2V411.1" stroke="#000" stroke-width="1.1"/>
<path d="M223.62 407.2V409.4" stroke="#000" stroke-width="0.8"/>
<path d="M220.88 407.2V409.4" stroke="#000" stroke-width="0.8"/>
<path d="M218.41 407.2V409.4" stroke="#000" stroke-width="0.8"/>
<path d="M216.19 407.2V409.4" stroke="#000" stroke-width="0.8"/>
<path d="M214.21 407.2V409.4" stroke="#000" stroke-width="0.8"/>
<path d="M212.42 407.2V409.4" stroke="#000" stroke-width="0.8"/>
<path d="M210.81 407.2V409.4" stroke="#000" stroke-width="0.8"/>
<path d="M209.34 407.2V409.4" stroke="#000" stroke-width="0.8"/>
<path d="M235.50 407.2V409.4" stroke="#000" stroke-width="0.8"/>
<path d="M238.11 407.2V409.4" stroke="#000" stroke-width="0.8"/>
<path d="M240.47 407.2V409.4" stroke="#000" stroke-width="0.8"/>
<path d="M242.58 407.2V409.4" stroke="#000" stroke-width="0.8"/>
<path d="M244.48 407.2V409.4" stroke="#000" stroke-width="0.8"/>
<path d="M246.18 407.2V409.4" stroke="#000" stroke-width="0.8"/>
<path d="M247.72 407.2V409.4" stroke="#000" stroke-width="0.8"/>
<path d="M249.12 407.2V409.4" stroke="#000" stroke-width="0.8"/>
<path d="M261.09 407.2V409.4" stroke="#000" stroke-width="0.8"/>
<path d="M267.34 407.2V409.4" stroke="#000" stroke-width="0.8"/>
<path d="M271.77 407.2V409.4" stroke="#000" stroke-width="0.8"/>
<path d="M275.21 407.2V409.4" stroke="#000" stroke-width="0.8"/>
<path d="M278.02 407.2V409.4" stroke="#000" stroke-width="0.8"/>
<path d="M280.40 407.2V409.4" stroke="#000" stroke-width="0.8"/>
<path d="M282.46 407.2V409.4" stroke="#000" stroke-width="0.8"/>
<path d="M284.28 407.2V409.4" stroke="#000" stroke-width="0.8"/>
<path d="M295.26 407.2V409.4" stroke="#000" stroke-width="0.8"/>
<path d="M300.74 407.2V409.4" stroke="#000" stroke-width="0.8"/>
<path d="M304.62 407.2V409.4" stroke="#000" stroke-width="0.8"/>
<path d="M307.64 407.2V409.4" stroke="#000" stroke-width="0.8"/>
<path d="M310.10 407.2V409.4" stroke="#000" stroke-width="0.8"/>
<path d="M312.18 407.2V409.4" stroke="#000" stroke-width="0.8"/>
<path d="M313.99 407.2V409.4" stroke="#000" stroke-width="0.8"/>
<path d="M315.58 407.2V409.4" stroke="#000" stroke-width="0.8"/>
<path d="M326.33 407.2V409.4" stroke="#000" stroke-width="0.8"/>
<rect x="226.5" y="407.2" width="6.0" height="2.6" fill="#000"/>
<text class="ft" style="font-size:7.5px" transform="translate(204.2 423.1) scale(0.95 1)">-10<tspan style="font-size:6.5px" dy="-4.4">3</tspan></text>
<text class="ft" style="font-size:7.5px" text-anchor="middle" transform="translate(231.0 423.1) scale(0.95 1)">0</text>
<text class="ft" style="font-size:7.5px" transform="translate(249.6 423.1) scale(0.95 1)">10<tspan style="font-size:6.5px" dy="-4.4">3</tspan></text>
<text class="ft" style="font-size:7.5px" transform="translate(285.1 423.1) scale(0.95 1)">10<tspan style="font-size:6.5px" dy="-4.4">4</tspan></text>
<text class="ft" style="font-size:7.5px" transform="translate(316.2 423.1) scale(0.95 1)">10<tspan style="font-size:6.5px" dy="-4.4">5</tspan></text>
<text class="fl" text-anchor="middle" transform="translate(262.0 432.9) scale(0.915 1)">F4 tetramer-PE</text>
<path d="M202.7 283.0H212.2" stroke="#000" stroke-width="1.7"/>
<text class="lg" style="font-size:7.3px" x="214.1" y="285.5">Isotype</text>
<path d="M248.5 283.0H255.8" stroke="#8a8a8a" stroke-width="1.2"/>
<text class="lg" style="font-size:7.3px" x="257.2" y="285.5">Anti-<tspan style="font-family:'Liberation Serif','DejaVu Serif',serif;font-size:7.4px">γδ</tspan>TCR mAb (B1)</text>
<path d="M396.5 407.0C396.8 406.9 398.4 407.4 399.0 406.5C399.6 405.6 401.1 402.3 401.6 399.5C402.1 396.7 402.9 387.6 403.3 383.0C403.7 378.4 404.3 367.3 404.6 361.5C404.9 355.7 405.7 341.2 406.1 335.0C406.5 328.8 407.3 313.9 407.6 310.2C407.9 306.5 408.6 305.5 408.9 304.0C409.2 302.5 409.6 298.8 409.8 297.5C410.0 296.2 410.3 293.4 410.5 293.5C410.7 293.6 411.0 296.5 411.1 298.0C411.2 299.5 411.4 302.3 411.7 306.0C412.0 309.7 412.9 324.6 413.2 329.0C413.5 333.4 413.9 339.1 414.2 343.0C414.5 346.9 415.3 357.2 415.7 361.5C416.1 365.8 417.2 375.0 417.8 378.8C418.4 382.6 420.3 390.3 421.1 392.8C421.9 395.3 423.6 398.4 424.6 399.8C425.6 401.2 428.6 403.5 429.7 404.2C430.8 404.9 432.8 405.7 434.0 406.0C435.2 406.3 439.3 406.9 440.0 407.0" fill="none" stroke="#8a8a8a" stroke-width="1.25" stroke-linejoin="round"/>
<path d="M398.0 407.0C398.5 406.9 401.1 406.8 402.0 406.5C402.9 406.2 404.7 405.5 405.5 404.8C406.3 404.1 408.0 401.8 409.0 400.5C410.0 399.2 412.6 395.4 413.5 393.8C414.4 392.2 415.9 389.0 416.5 387.5C417.1 386.0 418.2 383.5 418.9 380.9C419.6 378.3 421.6 368.6 422.2 365.8C422.8 363.0 423.8 358.7 424.3 357.2C424.8 355.7 425.6 354.2 426.0 353.5C426.4 352.8 427.1 352.3 427.5 351.0C427.9 349.7 429.2 343.6 429.6 342.3C430.0 341.0 430.7 341.4 431.1 340.0C431.5 338.6 432.5 332.4 433.0 330.5C433.5 328.6 434.6 325.5 435.0 324.3C435.4 323.1 436.0 320.6 436.3 320.3C436.6 320.0 437.1 322.6 437.4 321.5C437.7 320.4 438.6 313.1 438.9 311.0C439.2 308.9 439.9 305.2 440.2 304.0C440.5 302.8 441.4 300.2 441.8 300.8C442.2 301.4 443.1 309.4 443.6 309.4C444.1 309.4 445.5 302.2 446.0 300.8C446.5 299.4 447.6 297.3 448.0 297.6C448.4 297.9 449.2 301.7 449.6 303.0C450.0 304.3 450.8 307.6 451.2 308.6C451.6 309.6 452.3 310.0 452.7 311.7C453.1 313.4 454.0 320.1 454.3 322.7C454.6 325.3 455.1 330.9 455.4 333.0C455.7 335.1 456.2 337.9 456.6 340.0C457.0 342.1 458.2 347.7 458.8 350.8C459.4 353.9 461.4 362.8 462.0 365.8C462.6 368.8 463.5 373.7 464.1 375.5C464.7 377.3 466.6 379.2 467.4 380.9C468.2 382.6 469.7 387.7 470.6 389.5C471.5 391.3 474.0 394.8 474.9 396.0C475.8 397.2 477.2 398.9 478.1 399.2C479.0 399.5 481.5 398.5 482.5 398.8C483.5 399.1 485.8 401.0 486.8 401.4C487.8 401.8 490.1 402.2 491.1 402.5C492.1 402.8 494.7 404.2 495.4 404.0C496.1 403.8 496.7 403.3 497.0 401.0C497.3 398.7 497.9 387.5 498.1 385.0C498.3 382.5 498.7 380.4 498.8 379.8" fill="none" stroke="#000" stroke-width="1.5" stroke-linejoin="round"/>
<rect x="369.9" y="278.3" width="129.8" height="128.9" fill="none" stroke="#6e6e6e" stroke-width="0.75"/>
<path d="M369.5 407.2H500.1" stroke="#222" stroke-width="0.85"/>
<path d="M365.9 407.40H369.9" stroke="#000" stroke-width="1.1"/>
<text class="ft" text-anchor="end" transform="translate(363.7 410.00) scale(0.93 1)">0</text>
<path d="M367.8 401.25H369.9" stroke="#000" stroke-width="0.85"/>
<path d="M367.8 395.10H369.9" stroke="#000" stroke-width="0.85"/>
<path d="M367.8 388.96H369.9" stroke="#000" stroke-width="0.85"/>
<path d="M365.9 382.81H369.9" stroke="#000" stroke-width="1.1"/>
<text class="ft" text-anchor="end" transform="translate(363.7 385.41) scale(0.93 1)">20</text>
<path d="M367.8 376.66H369.9" stroke="#000" stroke-width="0.85"/>
<path d="M367.8 370.51H369.9" stroke="#000" stroke-width="0.85"/>
<path d="M367.8 364.37H369.9" stroke="#000" stroke-width="0.85"/>
<path d="M365.9 358.22H369.9" stroke="#000" stroke-width="1.1"/>
<text class="ft" text-anchor="end" transform="translate(363.7 360.82) scale(0.93 1)">40</text>
<path d="M367.8 352.07H369.9" stroke="#000" stroke-width="0.85"/>
<path d="M367.8 345.92H369.9" stroke="#000" stroke-width="0.85"/>
<path d="M367.8 339.78H369.9" stroke="#000" stroke-width="0.85"/>
<path d="M365.9 333.63H369.9" stroke="#000" stroke-width="1.1"/>
<text class="ft" text-anchor="end" transform="translate(363.7 336.23) scale(0.93 1)">60</text>
<path d="M367.8 327.48H369.9" stroke="#000" stroke-width="0.85"/>
<path d="M367.8 321.33H369.9" stroke="#000" stroke-width="0.85"/>
<path d="M367.8 315.19H369.9" stroke="#000" stroke-width="0.85"/>
<path d="M365.9 309.04H369.9" stroke="#000" stroke-width="1.1"/>
<text class="ft" text-anchor="end" transform="translate(363.7 311.64) scale(0.93 1)">80</text>
<path d="M367.8 302.89H369.9" stroke="#000" stroke-width="0.85"/>
<path d="M367.8 296.75H369.9" stroke="#000" stroke-width="0.85"/>
<path d="M367.8 290.60H369.9" stroke="#000" stroke-width="0.85"/>
<path d="M365.9 284.45H369.9" stroke="#000" stroke-width="1.1"/>
<text class="ft" text-anchor="end" transform="translate(363.7 287.05) scale(0.93 1)">100</text>
<text class="fl" text-anchor="middle" transform="translate(347.7 345.2) rotate(-90)">Normalized to mode</text>
<path d="M377.8 407.2V411.1" stroke="#000" stroke-width="1.1"/>
<path d="M399.5 407.2V411.1" stroke="#000" stroke-width="1.1"/>
<path d="M420.2 407.2V411.1" stroke="#000" stroke-width="1.1"/>
<path d="M455.7 407.2V411.1" stroke="#000" stroke-width="1.1"/>
<path d="M486.8 407.2V411.1" stroke="#000" stroke-width="1.1"/>
<path d="M393.42 407.2V409.4" stroke="#000" stroke-width="0.8"/>
<path d="M390.68 407.2V409.4" stroke="#000" stroke-width="0.8"/>
<path d="M388.21 407.2V409.4" stroke="#000" stroke-width="0.8"/>
<path d="M385.99 407.2V409.4" stroke="#000" stroke-width="0.8"/>
<path d="M384.01 407.2V409.4" stroke="#000" stroke-width="0.8"/>
<path d="M382.22 407.2V409.4" stroke="#000" stroke-width="0.8"/>
<path d="M380.61 407.2V409.4" stroke="#000" stroke-width="0.8"/>
<path d="M379.14 407.2V409.4" stroke="#000" stroke-width="0.8"/>
<path d="M405.30 407.2V409.4" stroke="#000" stroke-width="0.8"/>
<path d="M407.91 407.2V409.4" stroke="#000" stroke-width="0.8"/>
<path d="M410.27 407.2V409.4" stroke="#000" stroke-width="0.8"/>
<path d="M412.38 407.2V409.4" stroke="#000" stroke-width="0.8"/>
<path d="M414.28 407.2V409.4" stroke="#000" stroke-width="0.8"/>
<path d="M415.98 407.2V409.4" stroke="#000" stroke-width="0.8"/>
<path d="M417.52 407.2V409.4" stroke="#000" stroke-width="0.8"/>
<path d="M418.92 407.2V409.4" stroke="#000" stroke-width="0.8"/>
<path d="M430.89 407.2V409.4" stroke="#000" stroke-width="0.8"/>
<path d="M437.14 407.2V409.4" stroke="#000" stroke-width="0.8"/>
<path d="M441.57 407.2V409.4" stroke="#000" stroke-width="0.8"/>
<path d="M445.01 407.2V409.4" stroke="#000" stroke-width="0.8"/>
<path d="M447.82 407.2V409.4" stroke="#000" stroke-width="0.8"/>
<path d="M450.20 407.2V409.4" stroke="#000" stroke-width="0.8"/>
<path d="M452.26 407.2V409.4" stroke="#000" stroke-width="0.8"/>
<path d="M454.08 407.2V409.4" stroke="#000" stroke-width="0.8"/>
<path d="M465.06 407.2V409.4" stroke="#000" stroke-width="0.8"/>
<path d="M470.54 407.2V409.4" stroke="#000" stroke-width="0.8"/>
<path d="M474.42 407.2V409.4" stroke="#000" stroke-width="0.8"/>
<path d="M477.44 407.2V409.4" stroke="#000" stroke-width="0.8"/>
<path d="M479.90 407.2V409.4" stroke="#000" stroke-width="0.8"/>
<path d="M481.98 407.2V409.4" stroke="#000" stroke-width="0.8"/>
<path d="M483.79 407.2V409.4" stroke="#000" stroke-width="0.8"/>
<path d="M485.38 407.2V409.4" stroke="#000" stroke-width="0.8"/>
<path d="M496.13 407.2V409.4" stroke="#000" stroke-width="0.8"/>
<rect x="396.3" y="407.2" width="6.0" height="2.6" fill="#000"/>
<text class="ft" style="font-size:7.5px" transform="translate(374.0 423.1) scale(0.95 1)">-10<tspan style="font-size:6.5px" dy="-4.4">3</tspan></text>
<text class="ft" style="font-size:7.5px" text-anchor="middle" transform="translate(400.8 423.1) scale(0.95 1)">0</text>
<text class="ft" style="font-size:7.5px" transform="translate(419.4 423.1) scale(0.95 1)">10<tspan style="font-size:6.5px" dy="-4.4">3</tspan></text>
<text class="ft" style="font-size:7.5px" transform="translate(454.9 423.1) scale(0.95 1)">10<tspan style="font-size:6.5px" dy="-4.4">4</tspan></text>
<text class="ft" style="font-size:7.5px" transform="translate(486.0 423.1) scale(0.95 1)">10<tspan style="font-size:6.5px" dy="-4.4">5</tspan></text>
<text class="fl" text-anchor="middle" transform="translate(431.5 432.9) scale(0.915 1)">Zi11 tetramer-PE</text>
<path d="M372.7 283.0H382.7" stroke="#000" stroke-width="1.7"/>
<text class="lg" style="font-size:7.3px" x="384.1" y="285.5">Isotype</text>
<path d="M418.5 283.0H425.2" stroke="#8a8a8a" stroke-width="1.2"/>
<text class="lg" style="font-size:7.3px" x="427.7" y="285.5">Anti-<tspan style="font-family:'Liberation Serif','DejaVu Serif',serif;font-size:7.4px">γδ</tspan>TCR mAb (B1)</text>
</svg></body></html>
